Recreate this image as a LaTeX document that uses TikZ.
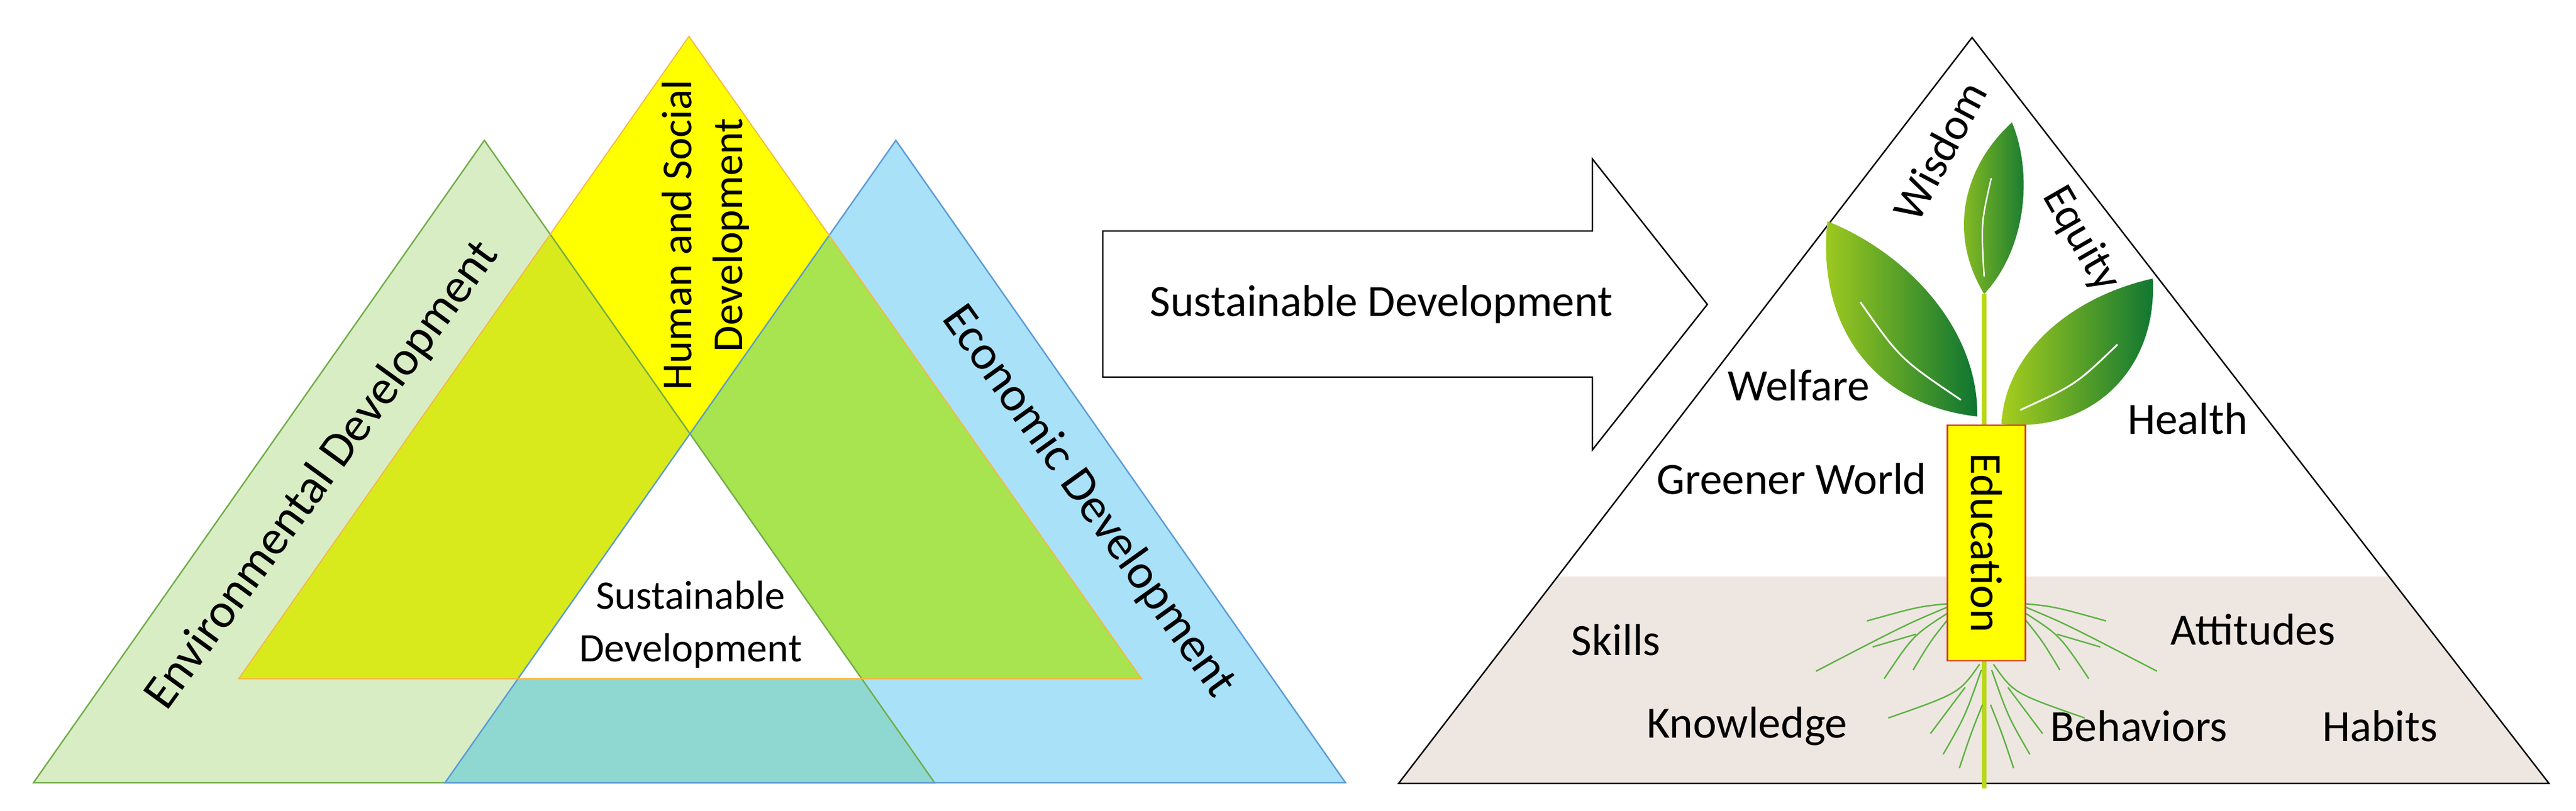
\documentclass[tikz,border=0pt]{standalone}
\usepackage{fontspec}
\setmainfont{Carlito}
\begin{document}
\begin{tikzpicture}[x=1cm,y=1cm,
  lbl/.style={font=\fontsize{22}{26}\selectfont,inner sep=0pt},
  root/.style={draw=rootg,line width=0.025cm},
  leafshade/.style={left color=leaflight,right color=leafdark}]
\definecolor{envg}{HTML}{D9EDC5}\definecolor{envo}{HTML}{70AD47}
\definecolor{ecob}{HTML}{A9E1F9}\definecolor{ecoo}{HTML}{5B9BD5}
\definecolor{humy}{HTML}{FFFF00}\definecolor{humo}{HTML}{F4B942}
\definecolor{lime}{HTML}{D9EA1C}\definecolor{grn}{HTML}{A8E350}
\definecolor{teal}{HTML}{8FD8D2}\definecolor{beige}{HTML}{EEE7E1}
\definecolor{leaflight}{HTML}{A6CE1E}\definecolor{leafdark}{HTML}{0C7432}
\definecolor{edred}{HTML}{D9342B}\definecolor{rootg}{HTML}{5DB345}
\useasboundingbox (0,0) rectangle (44.57,-14.04);
\def\G{(8.38,-2.43) -- (0.58,-13.55) -- (16.17,-13.55) -- cycle}
\def\B{(15.50,-2.43) -- (7.70,-13.55) -- (23.28,-13.55) -- cycle}
\def\Y{(11.92,-0.63) -- (4.13,-11.75) -- (19.75,-11.75) -- cycle}
\fill[envg] \G; \fill[ecob] \B; \fill[humy] \Y;
\begin{scope}\clip \G; \fill[lime] \Y; \end{scope}
\begin{scope}\clip \B; \fill[grn] \Y; \end{scope}
\begin{scope}\clip \G; \fill[teal] \B; \end{scope}
\begin{scope}\clip \G; \clip \B; \fill[white] \Y; \end{scope}
\draw[envo,line width=0.025cm] \G;
\draw[ecoo,line width=0.025cm] \B;
\draw[humo,line width=0.02cm] \Y;
\node[lbl,rotate=54] (env) at (5.58,-8.23) {\fontsize{24}{28}\selectfont Environmental Development};
\node[lbl,rotate=-54.4] (eco) at (18.83,-8.68) {\fontsize{24}{28}\selectfont Economic Development};
\node[lbl,rotate=90,align=center,font=\fontsize{21}{25}\selectfont] (hum) at (12.21,-4.07) {Human and Social\\Development};
\node[lbl,align=center,font=\fontsize{20}{24}\selectfont] (sd) at (11.95,-10.81) {Sustainable\\[2pt]Development};
% arrow
\draw[line width=0.025cm,fill=white] (19.08,-4.00) -- (27.55,-4.00) -- (27.55,-2.75) -- (29.54,-5.27) -- (27.55,-7.79) -- (27.55,-6.53) -- (19.08,-6.53) -- cycle;
\node[lbl] (arr) at (23.9,-5.27) {Sustainable Development};
% right triangle
\def\R{(34.12,-0.65) -- (24.20,-13.56) -- (44.10,-13.56) -- cycle}
\begin{scope}\clip \R; \fill[beige] (24,-9.98) rectangle (44.5,-13.6); \end{scope}
\draw[line width=0.025cm] \R;
% stem
\draw[leaflight!80!yellow,line width=0.08cm] (34.33,-5.09) -- (34.33,-13.65);
% roots from sides
\foreach \s in {1,-1}{
 \begin{scope}[xshift=34.37cm,xscale=\s,xshift=-34.37cm]
  \draw[root] (33.72,-10.45) .. controls (33.2,-10.5) .. (32.3,-10.75);
  \draw[root] (33.72,-10.5) .. controls (33.0,-10.8) .. (31.42,-11.62);
  \draw[root] (33.72,-10.6) .. controls (33.1,-11.0) .. (32.6,-11.75);
  \draw[root] (33.72,-10.7) .. controls (33.4,-11.1) .. (33.1,-11.6);
  \draw[root] (33.15,-10.98) -- (32.4,-11.2);
  \draw[root] (34.25,-11.5) .. controls (33.9,-12.0) .. (32.67,-12.43);
  \draw[root] (34.28,-11.6) .. controls (34.0,-12.4) .. (33.62,-13.06);
  \draw[root] (34.30,-12.2) .. controls (34.1,-12.7) .. (33.9,-13.3);
  \draw[root] (34.0,-11.9) -- (33.4,-12.7);
 \end{scope}}
% leaves
\begin{scope}[shift={(34.21,-7.21)},rotate=127.5]
 \shade[leafshade] (0,0) .. controls (1.3,1.35) and (3.0,1.2) .. (4.26,0) .. controls (3.0,-0.75) and (1.2,-0.95) .. cycle;
 \draw[white,line width=0.03cm] (0.4,0.05) .. controls (1.6,0.45) .. (2.8,0.4);
\end{scope}
\begin{scope}[shift={(34.33,-5.09)},rotate=80.8]
 \shade[leafshade] (0,0) .. controls (1.0,0.85) and (2.2,0.65) .. (3.01,0) .. controls (2.2,-0.5) and (0.9,-0.6) .. cycle;
 \draw[white,line width=0.025cm] (0.3,0.05) .. controls (1.2,0.25) .. (2.0,0.2);
\end{scope}
\begin{scope}[shift={(34.63,-7.34)},rotate=43.9]
 \shade[leafshade] (0,0) .. controls (0.9,0.85) and (2.4,0.75) .. (3.63,0) .. controls (2.6,-1.2) and (1.0,-1.2) .. cycle;
 \draw[white,line width=0.03cm] (0.4,-0.05) .. controls (1.4,-0.4) .. (2.4,-0.4);
\end{scope}
% education box
\node[draw=edred,fill=humy,line width=0.025cm,minimum width=1.35cm,minimum height=4.08cm,inner sep=0pt] (edu) at (34.37,-9.40) {};
\node[lbl,rotate=-90] (edut) at (edu.center) {Education};
\node[lbl,rotate=62] (wis) at (33.56,-2.61) {Wisdom};
\node[lbl,rotate=-60] (equ) at (36.00,-4.14) {Equity};
\node[lbl] (wel) at (31.12,-6.67) {Welfare};
\node[lbl] (hea) at (37.85,-7.25) {Health};
\node[lbl] (gre) at (31.00,-8.29) {Greener World};
\node[lbl] (ski) at (27.96,-11.08) {Skills};
\node[lbl] (kno) at (30.23,-12.57) {Knowledge};
\node[lbl] (att) at (38.98,-10.90) {Attitudes};
\node[lbl] (beh) at (37.01,-12.57) {Behaviors};
\node[lbl] (hab) at (41.18,-12.57) {Habits};
\end{tikzpicture}
\end{document}
